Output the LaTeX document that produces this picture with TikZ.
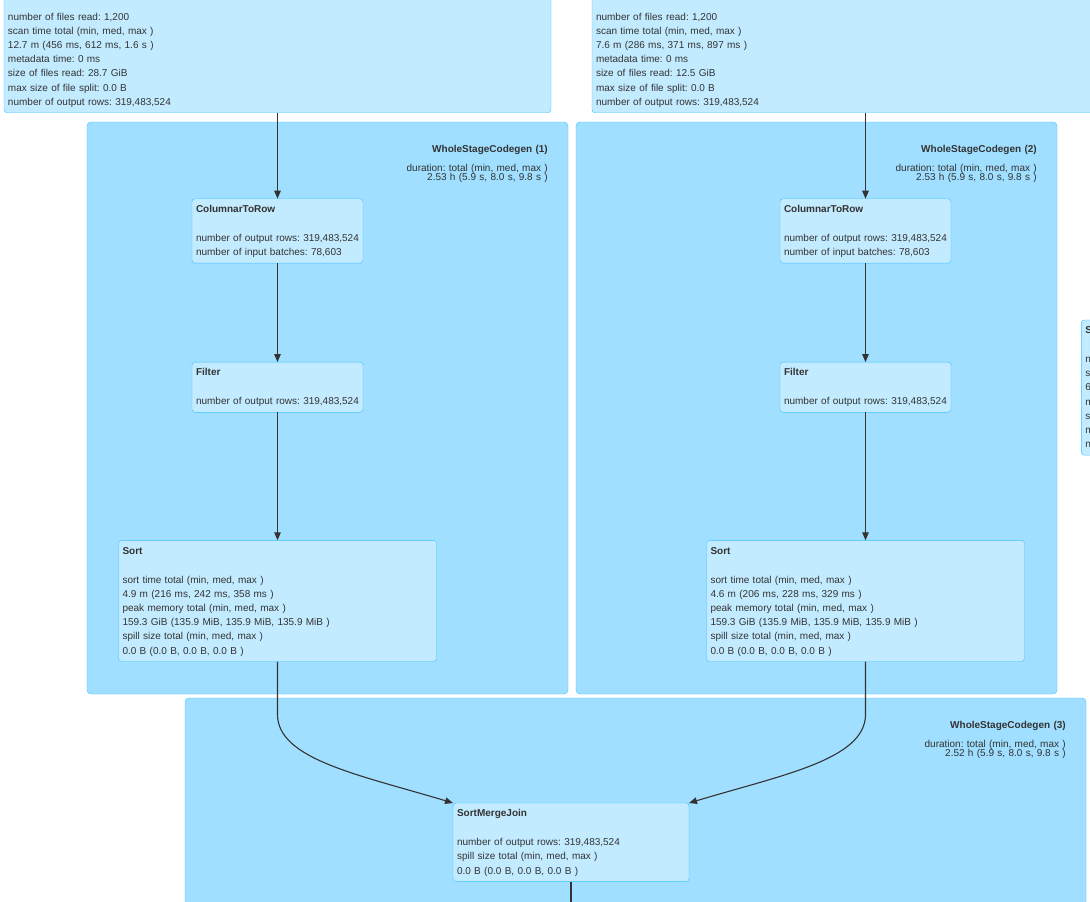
\documentclass[tikz,border=0pt]{standalone}
\usepackage{fontspec}
\setmainfont{Liberation Sans}
\usetikzlibrary{positioning,arrows.meta}
\definecolor{clusterfill}{HTML}{A0DFFF}
\definecolor{clusterline}{HTML}{3EC0FF}
\definecolor{opfill}{HTML}{C3EBFF}
\definecolor{opline}{HTML}{3EC0FF}
\definecolor{inkgray}{HTML}{333333}
\newcommand{\optitle}[1]{\rule{0pt}{13.7pt}\textbf{#1}\\[14.8pt]}
\newcommand{\opend}{\rule[-7.5pt]{0pt}{7.5pt}}
\newcommand{\tightlines}{\fontsize{10}{9}\selectfont\lineskiplimit=-10pt\relax}
\frenchspacing

\begin{document}
\begin{tikzpicture}[x=1pt,y=-1pt,
    cluster/.style={draw=clusterline, fill=clusterfill, rounded corners=4pt, inner sep=0pt, outer sep=0pt, anchor=north west},
    op/.style={draw=opline, fill=opfill, rounded corners=3pt, inner xsep=4pt, inner ysep=0pt, outer sep=0pt, align=left, text=inkgray, font=\fontsize{10}{14.2}\selectfont},
    wsc/.style={anchor=north east, inner sep=0pt, text width=200pt, align=right, text=inkgray, font=\tightlines},
    flow/.style={draw=inkgray, line width=1.1pt, -{Triangle[length=8pt,width=6.5pt]}}]
  \useasboundingbox (0,0) rectangle (1090,902);
  % codegen stages
  \node[cluster, minimum width=481pt, minimum height=572pt] (CG1) at (87,122) {};
  \node[cluster, minimum width=481pt, minimum height=572pt] (CG2) at (576,122) {};
  \node[cluster, minimum width=901pt, minimum height=260pt] (CG3) at (185,698) {};
  \node[wsc] (WSC1) at ([xshift=-20pt]CG1.north east) {\rule{0pt}{30pt}\textbf{WholeStageCodegen (1)}\\[10pt] duration: total (min, med, max )\\ 2.53 h (5.9 s, 8.0 s, 9.8 s )};
  \node[wsc] (WSC2) at ([xshift=-20pt]CG2.north east) {\rule{0pt}{30pt}\textbf{WholeStageCodegen (2)}\\[10pt] duration: total (min, med, max )\\ 2.53 h (5.9 s, 8.0 s, 9.8 s )};
  \node[wsc] (WSC3) at ([xshift=-20pt]CG3.north east) {\rule{0pt}{30pt}\textbf{WholeStageCodegen (3)}\\[10pt] duration: total (min, med, max )\\ 2.52 h (5.9 s, 8.0 s, 9.8 s )};
  % scans
  \node[op, text width=539pt, anchor=north west] (Scan1) at (4,-23) {\rule{0pt}{43pt}number of files read: 1,200\\ scan time total (min, med, max )\\ 12.7 m (456 ms, 612 ms, 1.6 s )\\ metadata time: 0 ms\\ size of files read: 28.7 GiB\\ max size of file split: 0.0 B\\ number of output rows: 319,483,524\opend};
  \node[op, text width=539pt, anchor=north west] (Scan2) at (592,-23) {\rule{0pt}{43pt}number of files read: 1,200\\ scan time total (min, med, max )\\ 7.6 m (286 ms, 371 ms, 897 ms )\\ metadata time: 0 ms\\ size of files read: 12.5 GiB\\ max size of file split: 0.0 B\\ number of output rows: 319,483,524\opend};
  \node[op, text width=60pt, anchor=north west] (Scan3) at (1081.3,320) {\rule{0pt}{13.5pt}\textbf{S}\\[14.8pt] n\\ s\\ 6\\ m\\ s\\ m\\ n\opend};
  % stage 1
  \node[op, text width=163pt, below=86pt of Scan1] (CtoR1) {\optitle{ColumnarToRow}number of output rows: 319,483,524\\ number of input batches: 78,603\opend};
  \node[op, text width=163pt, below=99pt of CtoR1] (Filter1) {\optitle{Filter}number of output rows: 319,483,524\opend};
  \node[op, text width=310pt, below=128pt of Filter1] (Sort1) {\optitle{Sort}sort time total (min, med, max )\\ 4.9 m (216 ms, 242 ms, 358 ms )\\ peak memory total (min, med, max )\\ 159.3 GiB (135.9 MiB, 135.9 MiB, 135.9 MiB )\\ spill size total (min, med, max )\\ 0.0 B (0.0 B, 0.0 B, 0.0 B )\opend};
  % stage 2
  \node[op, text width=163pt, below=86pt of Scan2] (CtoR2) {\optitle{ColumnarToRow}number of output rows: 319,483,524\\ number of input batches: 78,603\opend};
  \node[op, text width=163pt, below=99pt of CtoR2] (Filter2) {\optitle{Filter}number of output rows: 319,483,524\opend};
  \node[op, text width=310pt, below=128pt of Filter2] (Sort2) {\optitle{Sort}sort time total (min, med, max )\\ 4.6 m (206 ms, 228 ms, 329 ms )\\ peak memory total (min, med, max )\\ 159.3 GiB (135.9 MiB, 135.9 MiB, 135.9 MiB )\\ spill size total (min, med, max )\\ 0.0 B (0.0 B, 0.0 B, 0.0 B )\opend};
  % stage 3
  \node[op, text width=228pt, anchor=north] (SMJ) at (571,803) {\optitle{SortMergeJoin}number of output rows: 319,483,524\\ spill size total (min, med, max )\\ 0.0 B (0.0 B, 0.0 B, 0.0 B )\opend};
  \coordinate[below=40pt of SMJ] (Next);
  % edges
  \draw[flow] (Scan1) -- (CtoR1);
  \draw[flow] (CtoR1) -- (Filter1);
  \draw[flow] (Filter1) -- (Sort1);
  \draw[flow] (Scan2) -- (CtoR2);
  \draw[flow] (CtoR2) -- (Filter2);
  \draw[flow] (Filter2) -- (Sort2);
  \draw[flow] (Sort1.south) -- ++(0,53) .. controls +(0,45) and +(-93,-28) .. (SMJ.north west);
  \draw[flow] (Sort2.south) -- ++(0,53) .. controls +(0,45) and +(93,-28) .. (SMJ.north east);
  \draw[draw=inkgray, line width=1.1pt] (SMJ) -- (Next);
\end{tikzpicture}
\end{document}
